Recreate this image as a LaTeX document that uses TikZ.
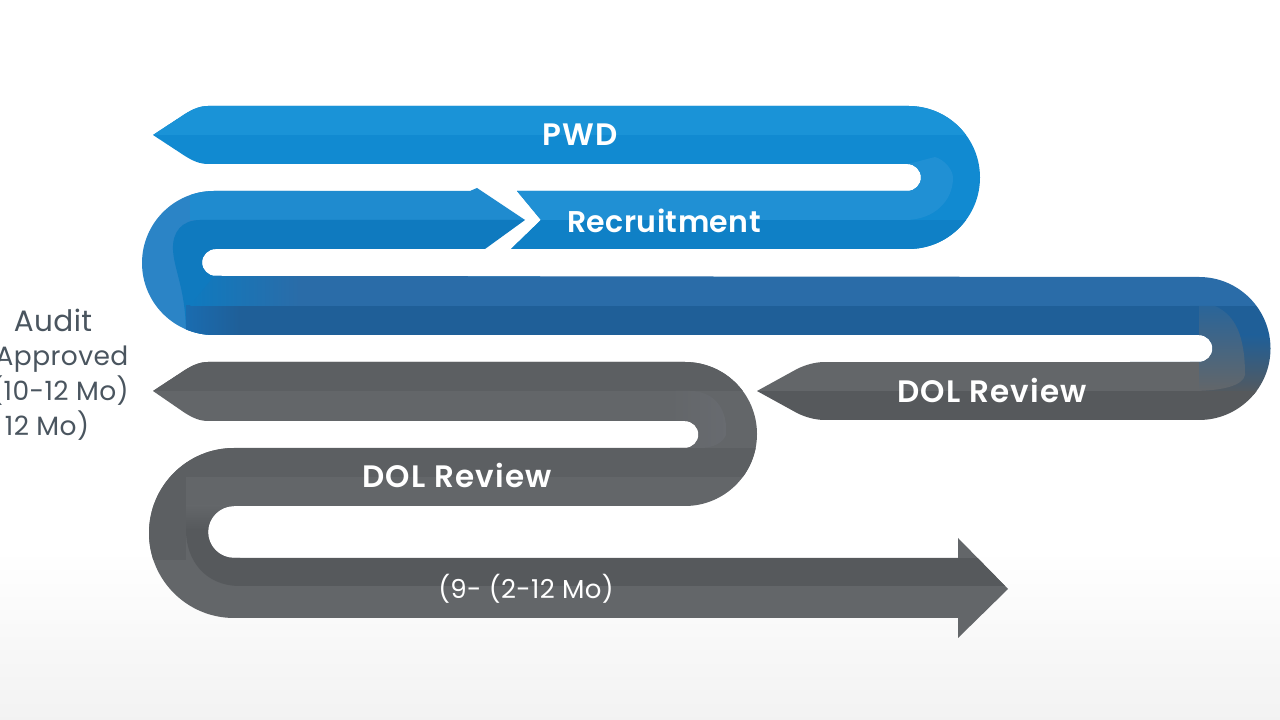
\documentclass[tikz,border=0pt]{standalone}
\usepackage{fontspec}
\setmainfont{Poppins}[BoldFont={Poppins SemiBold},LetterSpace=1.5]
\definecolor{blueA}{HTML}{1A93D7}
\definecolor{blueB}{HTML}{118AD1}
\definecolor{blueC}{HTML}{2090D4}
\definecolor{blueD}{HTML}{0F80C6}
\definecolor{blueE}{HTML}{2B84C6}
\definecolor{blueF}{HTML}{1F8BCF}
\definecolor{blueG}{HTML}{0F7ABF}
\definecolor{blueH}{HTML}{1A6CB0}
\definecolor{navyA}{HTML}{2A6CA8}
\definecolor{navyB}{HTML}{1F5F98}
\definecolor{navyC}{HTML}{2A6599}
\definecolor{greyA}{HTML}{5C5F62}
\definecolor{greyB}{HTML}{636669}
\definecolor{greyC}{HTML}{686B70}
\definecolor{greyD}{HTML}{56595C}
\definecolor{sideText}{HTML}{4A555F}
\tikzset{
  x=1pt,y=1pt,
  barlabel/.style={text=white,font=\fontsize{30}{30}\selectfont\bfseries,inner sep=0pt,anchor=base},
  widelabel/.style={text=white,font=\fontsize{31}{31}\selectfont\bfseries\addfontfeature{LetterSpace=4},inner sep=0pt,anchor=base},
  sidelabel/.style={text=sideText,font=\fontsize{26.5}{26.5}\selectfont,inner sep=0pt,anchor=base},
  smalllabel/.style={text=white,font=\fontsize{26}{26}\selectfont,inner sep=0pt,anchor=base}
}
\begin{document}
\begin{tikzpicture}
\useasboundingbox (0,0) rectangle (1280,720);
\fill[white] (0,0) rectangle (1280,720);
\shade[top color=white,bottom color=black!5] (0,0) rectangle (1280,170);
% ribbon one: PWD / Recruitment head
\begin{scope}
\clip (153,585) -- (185,606) .. controls (193,611) and (200,614) .. (208,614) -- (908.5,614)
  arc[start angle=90,end angle=-90,radius=71.5] -- (511,471) -- (541,500) -- (517,529) -- (907.5,529)
  arc[start angle=-90,end angle=90,radius=13.5] -- (208,556) .. controls (200,556) and (193,559) .. (185,564) -- cycle;
\fill[blueB] (140,460) rectangle (1000,620);
\fill[blueA] (140,585) rectangle (1000,620);
\fill[blueD] (500,471) rectangle (1000,500);
\fill[blueC] (500,500) -- (905,500) .. controls (935,500) and (953,520) .. (953,542) .. controls (953,550) and (945,560) .. (935,563) -- (908,556) -- (908,529) -- (500,529) -- cycle;
\end{scope}
% ribbon two: Recruitment tail, long bar, DOL Review
\begin{scope}
\clip (477,532) -- (525,500) -- (485,471) -- (215.5,471)
  arc[start angle=90,end angle=270,radius=13.5] -- (1199,443)
  arc[start angle=90,end angle=-90,radius=71.5] -- (825,300) .. controls (815,300) and (805,303) .. (797,307) -- (757,329)
  -- (797,351) .. controls (805,355) and (815,358) .. (825,358) -- (1199,358)
  arc[start angle=-90,end angle=90,radius=13.5] -- (214,385)
  arc[start angle=270,end angle=90,radius=72] -- (470,529) -- cycle;
% left lobe
\fill[blueE] (140,380) rectangle (300,535);
\fill[blueF] (190,500) rectangle (540,535);
\fill[blueG] (540,500) -- (200,500) .. controls (182,500) and (172,488) .. (173,470) .. controls (174,450) and (186,430) .. (186,385) -- (540,385) -- cycle;
% long bar
\fill[navyB] (240,385) rectangle (1280,414);
\fill[navyA] (300,414) rectangle (1280,445);
\shade[left color=blueH,right color=navyB] (186,385) rectangle (240,414);
\shade[left color=blueG,right color=navyA] (190,414) -- (215,445) -- (300,445) -- (300,414) -- cycle;
\shade[top color=navyB,bottom color=greyD] (1130,385) rectangle (1280,325);
% grey end
\fill[greyD] (750,295) rectangle (1280,329);
\fill[greyB] (750,329) rectangle (1199,358);
\shade[top color=navyC,bottom color=greyB] (1190,414) -- (1215,414) .. controls (1235,405) and (1245,385) .. (1245,345) .. controls (1243,335) and (1225,329) .. (1190,329) -- (1190,358) -- (1212,371) -- (1190,385) -- cycle;
\fill[navyB] (1100,385) rectangle (1199,414);
\fill[greyB] (1100,329) rectangle (1199,358);
\end{scope}
% ribbon three: grey
\begin{scope}
\clip (153,329) -- (185,350) .. controls (193,355) and (200,358) .. (208,358) -- (685,358)
  arc[start angle=90,end angle=-90,radius=72] -- (234,214)
  arc[start angle=90,end angle=270,radius=26] -- (958,162) -- (958,182) -- (1008,131) -- (958,82) -- (958,102) -- (234,102)
  arc[start angle=270,end angle=90,radius=85] -- (685,272)
  arc[start angle=-90,end angle=90,radius=13.5] -- (208,299) .. controls (200,299) and (193,302) .. (185,307) -- cycle;
\fill[greyB] (140,70) rectangle (1020,370);
\fill[greyA] (140,329) rectangle (760,370);
\fill[greyA] (140,272) rectangle (186,243);
\fill[greyA] (186,243) rectangle (760,272);
\fill[greyA] (140,160) rectangle (186,243);
\shade[left color=greyB,right color=greyC] (670,329) -- (690,329) .. controls (715,329) and (728,310) .. (726,285) .. controls (722,276) and (712,272) .. (700,272) -- (670,272) -- cycle;
\fill[greyD] (240,134) rectangle (1020,162);
\shade[top color=greyB,bottom color=greyD] (186,214) rectangle (240,190);
\fill[greyD] (240,134) .. controls (205,134) and (186,160) .. (186,190) -- (240,190) -- cycle;
\end{scope}
\node[widelabel] (pwd) at (580,574) {PWD};
\node[barlabel] (recruit) at (664,487) {Recruitment};
\node[widelabel] (dolone) at (992,317) {DOL Review};
\node[widelabel] (doltwo) at (457,232) {DOL Review};
\node[smalllabel] (months) at (526,121) {(9- (2-12 Mo)};
\node[sidelabel,font=\fontsize{29.5}{29.5}\selectfont] (audit) at (53,388) {Audit};
\node[sidelabel] (approved) at (62,354) {Approved};
\node[sidelabel] (range) at (60,319) {(10-12 Mo)};
\node[sidelabel] (short) at (47,284) {12 Mo)};
\end{tikzpicture}
\end{document}
